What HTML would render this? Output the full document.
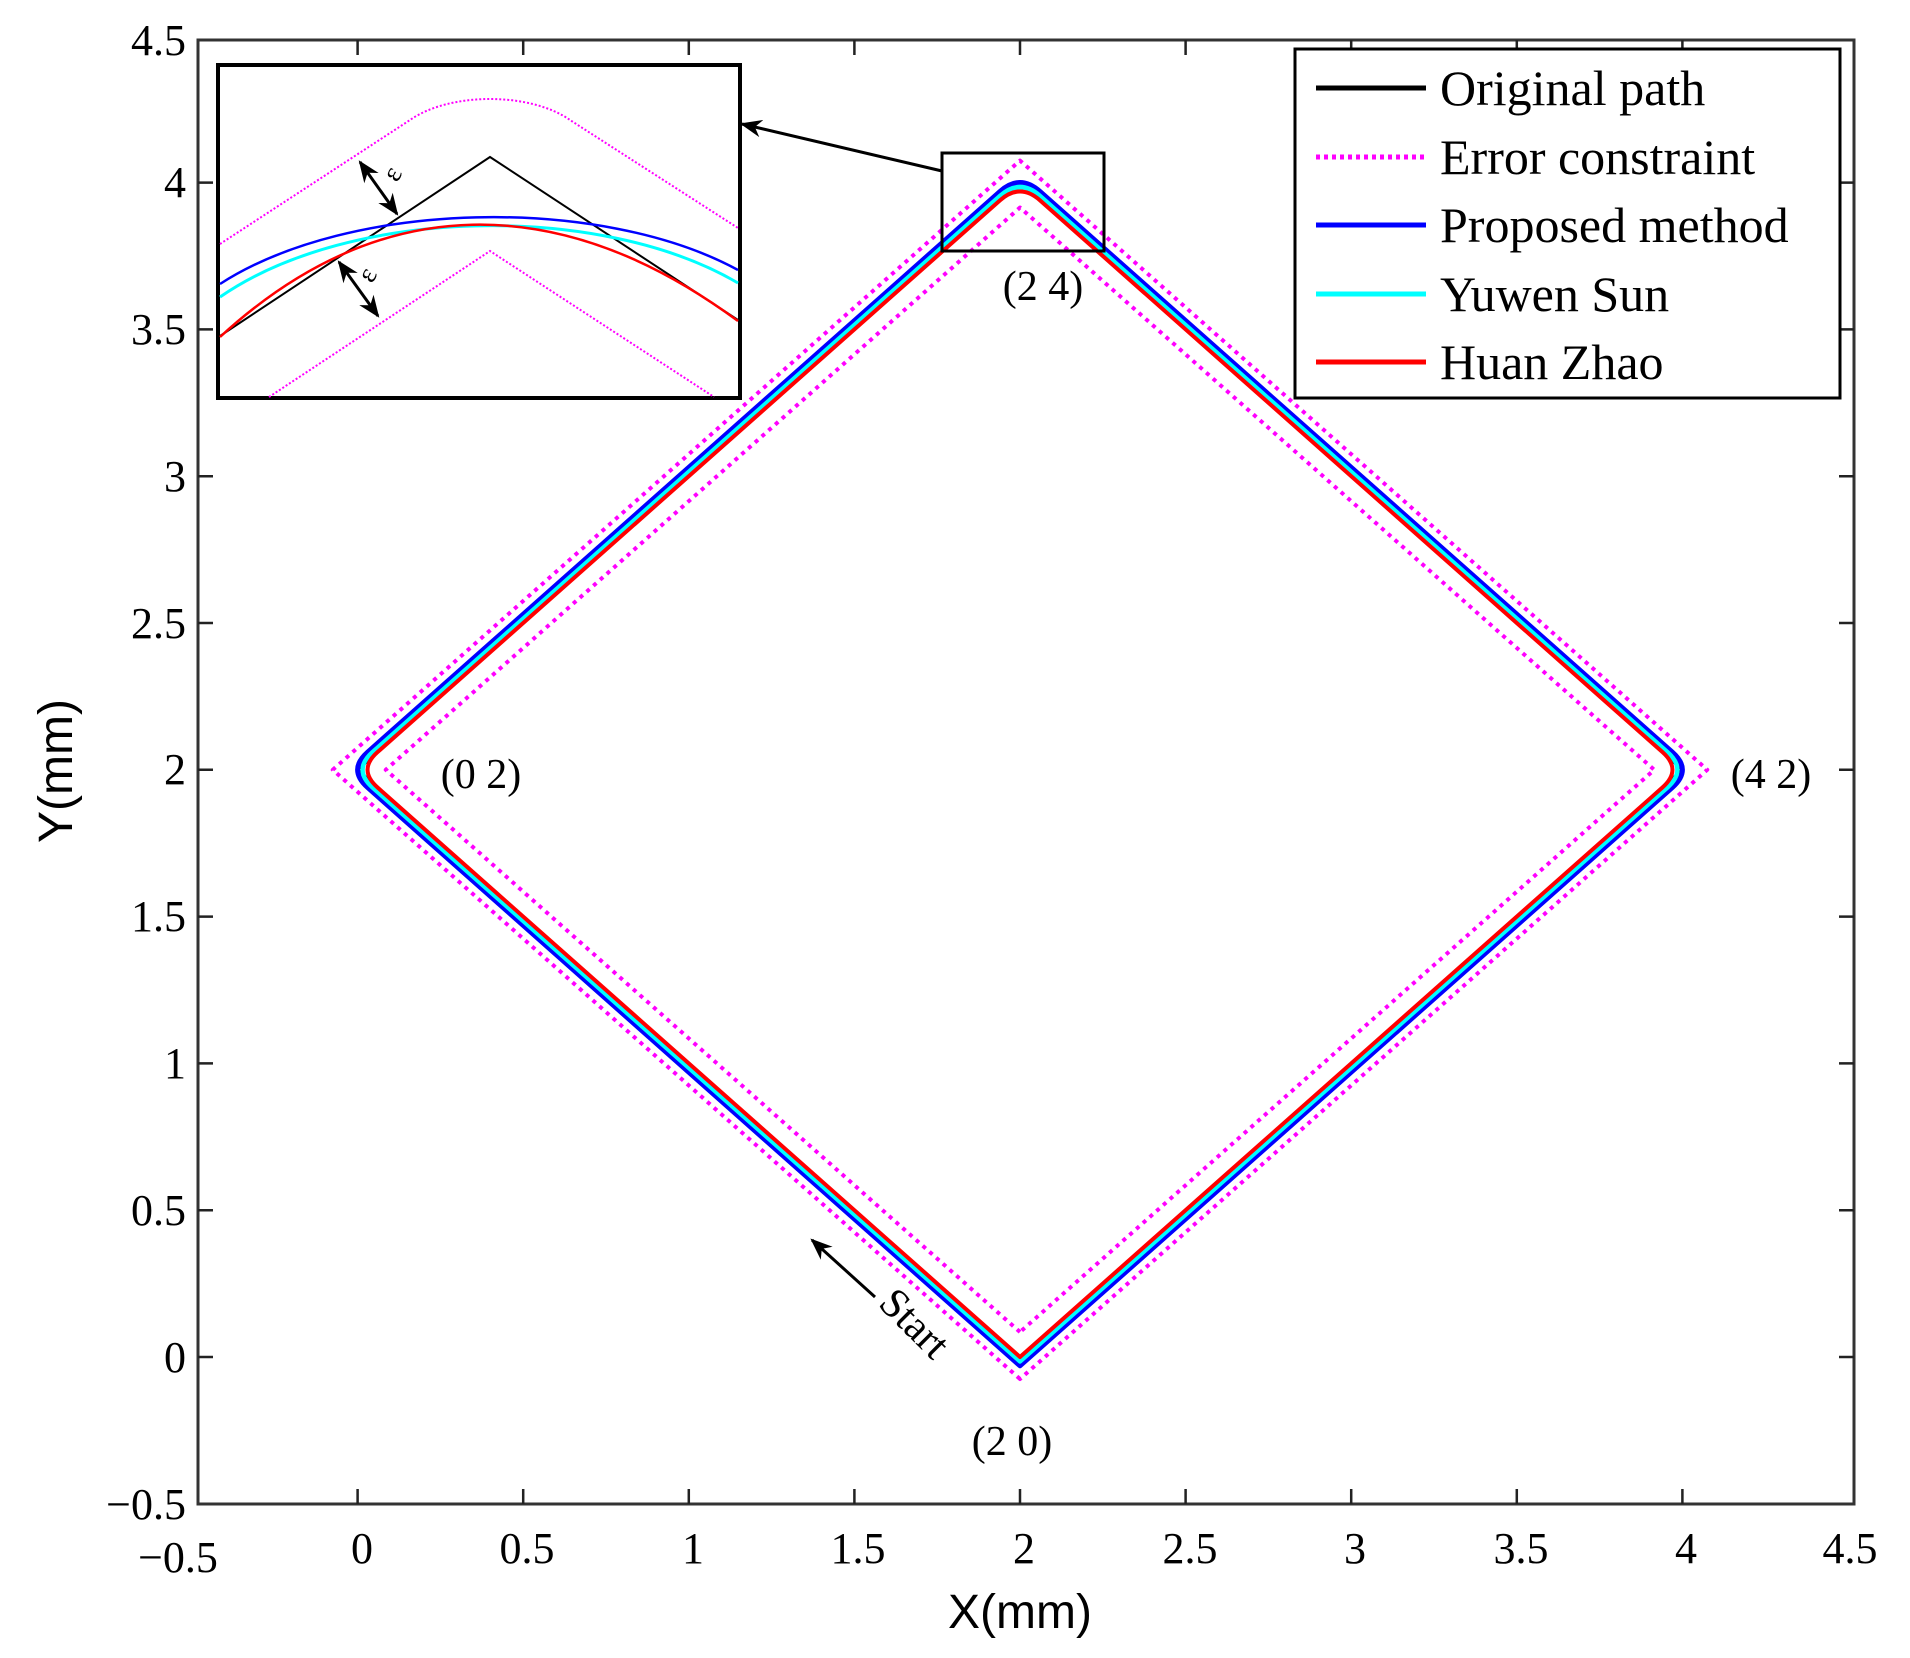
<!DOCTYPE html>
<html><head><meta charset="utf-8"><style>
html,body{margin:0;padding:0;background:#fff}
svg{display:block}
.t{font-family:"Liberation Serif",serif;fill:#000}
.s{font-family:"Liberation Sans",sans-serif;fill:#000}
</style></head><body>
<svg width="1910" height="1658" viewBox="0 0 1910 1658" xmlns="http://www.w3.org/2000/svg">
<defs>
<marker id="ah2" viewBox="0 0 10 10" refX="9" refY="5" markerWidth="22" markerHeight="22" orient="auto-start-reverse" markerUnits="userSpaceOnUse">
<path d="M0,1 L10,5 L0,9 L3,5 z" fill="#000"/></marker>
</defs>
<g transform="matrix(331.2,0,0,-293.6,357.6,1357)" fill="none" stroke-linejoin="round">
<path vector-effect="non-scaling-stroke" stroke="#ff00ff" stroke-width="4" stroke-dasharray="4 5" d="M2,-0.075 L-0.075,2 L2,4.075 L4.075,2 Z"/>
<path vector-effect="non-scaling-stroke" stroke="#ff00ff" stroke-width="4" stroke-dasharray="4 5" d="M2,0.085 L0.085,2 L2,3.915 L3.915,2 Z"/>
<path vector-effect="non-scaling-stroke" stroke="#000" stroke-width="3" d="M2,0 L0,2 L2,4 L4,2 Z"/>
<path vector-effect="non-scaling-stroke" stroke="#0000ff" stroke-width="5" d="M2,-0.03 L0.03,1.94 Q-0.03,2 0.03,2.06 L1.94,3.97 Q2,4.03 2.06,3.97 L3.97,2.06 Q4.03,2 3.97,1.94 Z"/>
<path vector-effect="non-scaling-stroke" stroke="#00ffff" stroke-width="4.5" d="M2,-0.015 L0.045,1.94 Q-0.015,2 0.045,2.06 L1.94,3.955 Q2,4.015 2.06,3.955 L3.955,2.06 Q4.015,2 3.955,1.94 Z"/>
<path vector-effect="non-scaling-stroke" stroke="#ff0000" stroke-width="4" d="M2,0 L0.06,1.94 Q0,2 0.06,2.06 L1.94,3.94 Q2,4 2.06,3.94 L3.94,2.06 Q4,2 3.94,1.94 Z"/>
</g>
<rect x="198" y="40" width="1656" height="1464" fill="none" stroke="#333" stroke-width="3"/>
<g stroke="#222" stroke-width="2.5">
<path d="M357.6,1504v-15M357.6,40v15M523.2,1504v-15M523.2,40v15M688.8,1504v-15M688.8,40v15M854.4,1504v-15M854.4,40v15M1020,1504v-15M1020,40v15M1185.6,1504v-15M1185.6,40v15M1351.2,1504v-15M1351.2,40v15M1516.8,1504v-15M1516.8,40v15M1682.4,1504v-15M1682.4,40v15"/>
<path d="M198,1357h15M1854,1357h-15M198,1210.2h15M1854,1210.2h-15M198,1063.4h15M1854,1063.4h-15M198,916.6h15M1854,916.6h-15M198,769.8h15M1854,769.8h-15M198,623h15M1854,623h-15M198,476.2h15M1854,476.2h-15M198,329.4h15M1854,329.4h-15M198,182.6h15M1854,182.6h-15"/>
</g>
<g class="t" font-size="44" text-anchor="end">
<text x="186" y="55">4.5</text>
<text x="186" y="197">4</text>
<text x="186" y="344">3.5</text>
<text x="186" y="491">3</text>
<text x="186" y="638">2.5</text>
<text x="186" y="784">2</text>
<text x="186" y="931">1.5</text>
<text x="186" y="1078">1</text>
<text x="186" y="1225">0.5</text>
<text x="186" y="1372">0</text>
<text x="186" y="1519">−0.5</text>
</g>
<g class="t" font-size="44" text-anchor="middle">
<text x="178" y="1572">−0.5</text>
<text x="362" y="1563">0</text>
<text x="527" y="1563">0.5</text>
<text x="693" y="1563">1</text>
<text x="858" y="1563">1.5</text>
<text x="1024" y="1563">2</text>
<text x="1190" y="1563">2.5</text>
<text x="1355" y="1563">3</text>
<text x="1521" y="1563">3.5</text>
<text x="1686" y="1563">4</text>
<text x="1850" y="1563">4.5</text>
</g>
<text class="s" font-size="48" x="1020" y="1628" text-anchor="middle">X(mm)</text>
<text class="s" font-size="48" transform="translate(72,771) rotate(-90)" text-anchor="middle">Y(mm)</text>
<g class="t" font-size="42" text-anchor="middle">
<text x="1043" y="300">(2 4)</text>
<text x="481" y="788">(0 2)</text>
<text x="1771" y="788">(4 2)</text>
<text x="1012" y="1455">(2 0)</text>
</g>
<text class="t" font-size="42" transform="translate(905,1333) rotate(45)" text-anchor="middle">Start</text>
<line x1="875" y1="1297" x2="812" y2="1240" stroke="#000" stroke-width="3" marker-end="url(#ah2)"/>
<rect x="942" y="153" width="162" height="98" fill="none" stroke="#000" stroke-width="3"/>
<line x1="942" y1="171" x2="742" y2="124" stroke="#000" stroke-width="3" marker-end="url(#ah2)"/>
<rect x="218" y="65" width="522" height="333" fill="#fff" stroke="#000" stroke-width="4"/>
<g fill="none">
<path d="M220,244 L410,120 C450,92 530,92 570,120 L738,228" stroke="#ff00ff" stroke-width="2" stroke-dasharray="2 2"/>
<path d="M269,397 L490,251 L714,397" stroke="#ff00ff" stroke-width="2" stroke-dasharray="2 2"/>
<path d="M220,336 L490,157 L738,320" stroke="#000" stroke-width="2"/>
<path d="M220,284 C350,200 600,195 738,270" stroke="#0000ff" stroke-width="2.5"/>
<path d="M220,297 C350,207 600,202 738,283" stroke="#00ffff" stroke-width="3"/>
<path d="M220,337 C380,190 560,190 738,321" stroke="#ff0000" stroke-width="2.5"/>
<line x1="360" y1="162" x2="397" y2="214" stroke="#000" stroke-width="3" marker-start="url(#ah2)" marker-end="url(#ah2)" />
<line x1="339" y1="262" x2="378" y2="316" stroke="#000" stroke-width="3" marker-start="url(#ah2)" marker-end="url(#ah2)"/>
</g>
<text class="t" font-size="28" transform="translate(400,178) rotate(-62)" text-anchor="middle">ε</text>
<text class="t" font-size="28" transform="translate(375,279) rotate(-62)" text-anchor="middle">ε</text>
<rect x="1295" y="49" width="545" height="349" fill="#fff" stroke="#000" stroke-width="3"/>
<g stroke-width="5">
<line x1="1316" y1="88" x2="1426" y2="88" stroke="#000"/>
<line x1="1316" y1="157" x2="1426" y2="157" stroke="#ff00ff" stroke-dasharray="4 4"/>
<line x1="1316" y1="225" x2="1426" y2="225" stroke="#0000ff"/>
<line x1="1316" y1="294" x2="1426" y2="294" stroke="#00ffff"/>
<line x1="1316" y1="362" x2="1426" y2="362" stroke="#ff0000"/>
</g>
<g class="t" font-size="50">
<text x="1440" y="105">Original path</text>
<text x="1440" y="174">Error constraint</text>
<text x="1440" y="242">Proposed method</text>
<text x="1440" y="311">Yuwen Sun</text>
<text x="1440" y="379">Huan Zhao</text>
</g>
</svg>
</body></html>
